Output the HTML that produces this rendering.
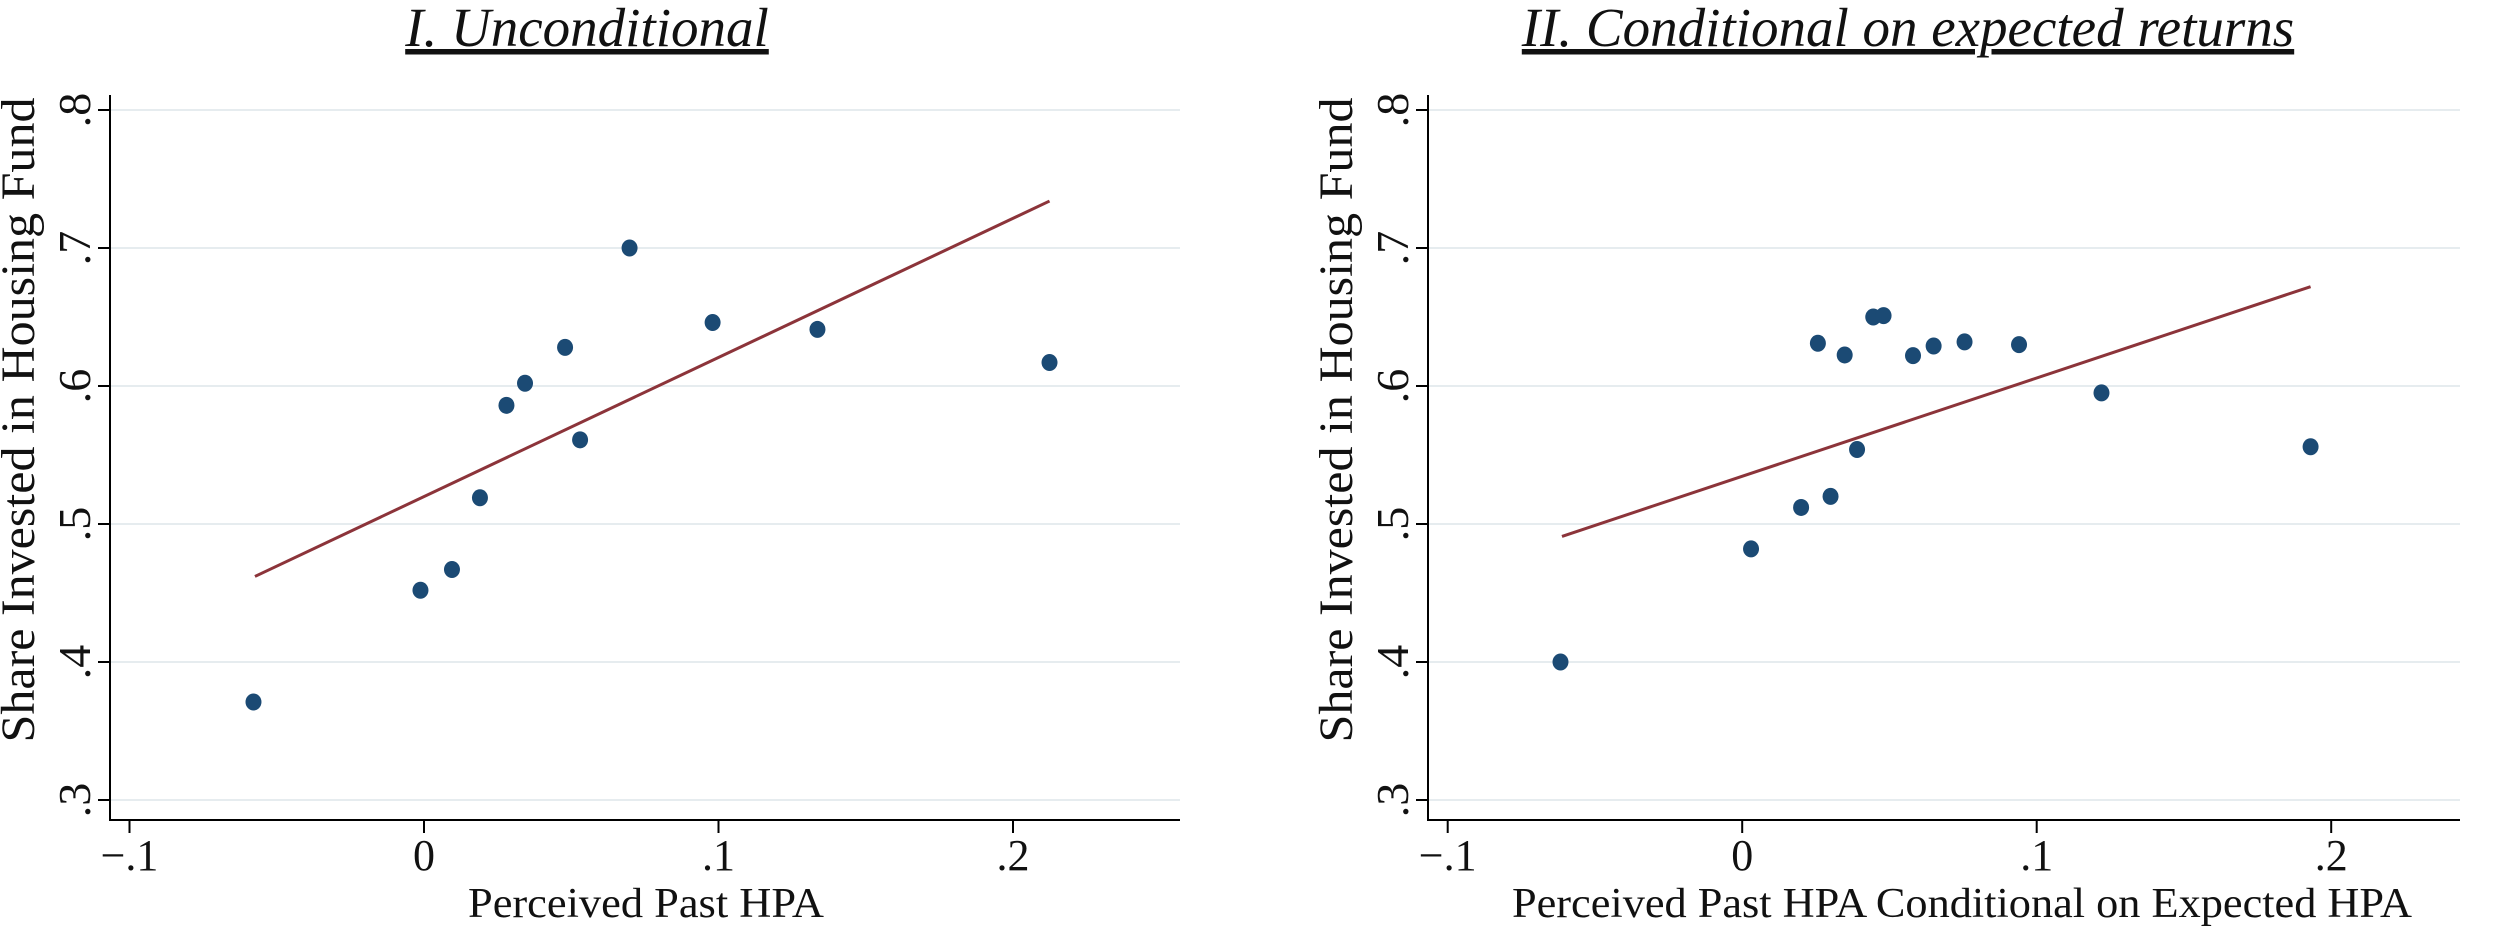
<!DOCTYPE html>
<html><head><meta charset="utf-8"><style>
html,body{margin:0;padding:0;background:#fff}
svg{display:block}
text{font-family:"Liberation Serif",serif;fill:#111}
</style></head><body>
<svg id="c" width="2500" height="927" viewBox="0 0 2500 927" xmlns="http://www.w3.org/2000/svg"></svg>
<script>
const yTicks=[0.3,0.4,0.5,0.6,0.7,0.8];
const yTickLabels=[".3",".4",".5",".6",".7",".8"];
const xTicks=[-0.1,0,0.1,0.2];
const xTickLabels=["\u2212.1","0",".1",".2"];
const leftX=[-0.0579,-0.0012,0.0095,0.019,0.028,0.0343,0.0479,0.053,0.0698,0.098,0.1336,0.2124];
const leftY=[0.371,0.452,0.467,0.519,0.586,0.602,0.628,0.561,0.700,0.646,0.641,0.617];
const leftFitX=[-0.0574,0.2124];
const leftFitY=[0.462,0.734];
const rightX=[-0.0617,0.003,0.020,0.0257,0.030,0.0348,0.039,0.0445,0.048,0.058,0.065,0.0755,0.094,0.122,0.193];
const rightY=[0.400,0.482,0.512,0.631,0.520,0.6225,0.554,0.650,0.651,0.622,0.629,0.632,0.630,0.595,0.556];
const rightFitX=[-0.0612,0.193];
const rightFitY=[0.491,0.672];

const NS="http://www.w3.org/2000/svg";
const svg=document.getElementById('c');
function mk(tag,attrs,parent){const e=document.createElementNS(NS,tag);for(const k in attrs)e.setAttribute(k,attrs[k]);(parent||svg).appendChild(e);return e;}

function panel(o){
  const g=mk('g',{});
  
  
  const sx=v=>o.x0+(v-(-0.1))*2945;
  const sy=v=>800-(v-0.3)*1380;
  yTicks.forEach((t,i)=>{
    const gl=mk('line',{x1:o.ax,x2:o.gridEnd,y1:sy(t),y2:sy(t),stroke:'#e6ecef','stroke-width':2},g);
    
    
    mk('line',{x1:o.ax-12,x2:o.ax,y1:sy(t),y2:sy(t),stroke:'#000','stroke-width':2},g);
    const tl=mk('text',{x:0,y:0,'font-size':46,'text-anchor':'middle',transform:`translate(${o.ax-20},${sy(t)}) rotate(-90)`},g);
    tl.textContent=yTickLabels[i];
    
    
  });
  xTicks.forEach((t,i)=>{
    mk('line',{x1:sx(t),x2:sx(t),y1:820,y2:833,stroke:'#000','stroke-width':2},g);
    const tl=mk('text',{x:sx(t),y:870,'font-size':44,'text-anchor':'middle'},g);
    tl.textContent=xTickLabels[i];
    
    
  });
  const ya=mk('line',{x1:o.ax,x2:o.ax,y1:95,y2:821,stroke:'#000','stroke-width':2},g);
  
  
  const xa=mk('line',{x1:o.ax-1,x2:o.gridEnd,y1:820,y2:820,stroke:'#000','stroke-width':2},g);
  
  
  const fit=mk('line',{x1:sx(o.fx[0]),y1:sy(o.fy[0]),x2:sx(o.fx[1]),y2:sy(o.fy[1]),stroke:'#8c343a','stroke-width':3},g);
  
  
  o.xs.forEach((v,i)=>{
    const c=mk('ellipse',{cx:sx(v),cy:sy(o.ys[i]),rx:8,ry:8.5,fill:'#1b4a74'},g);
    
    
  });
  const tt=mk('text',{x:o.tx,y:46,'font-size':55,'font-style':'italic','text-anchor':'middle','text-decoration':'underline'},g);
  tt.textContent=o.title;
  
  
  const xl=mk('text',{x:o.xlx,y:917,'font-size':42,'text-anchor':'middle',textLength:o.xlen,lengthAdjust:'spacingAndGlyphs'},g);
  xl.textContent=o.xlabel;
  
  
  const yl=mk('text',{x:0,y:0,'font-size':48,'text-anchor':'middle',textLength:645,lengthAdjust:'spacingAndGlyphs',transform:`translate(${o.ax-76},420) rotate(-90)`},g);
  yl.textContent='Share Invested in Housing Fund';
  
  
}
panel({name:'panel-unconditional',x0:129.5,ax:110,gridEnd:1180,xs:leftX,ys:leftY,fx:leftFitX,fy:leftFitY,
  title:'I. Unconditional',tx:587,xlabel:'Perceived Past HPA',xlx:646,xlen:356});
panel({name:'panel-conditional',x0:1447.7,ax:1428,gridEnd:2460,xs:rightX,ys:rightY,fx:rightFitX,fy:rightFitY,
  title:'II. Conditional on expected returns',tx:1908,xlabel:'Perceived Past HPA Conditional on Expected HPA',xlx:1962,xlen:900});
</script>
</body></html>
